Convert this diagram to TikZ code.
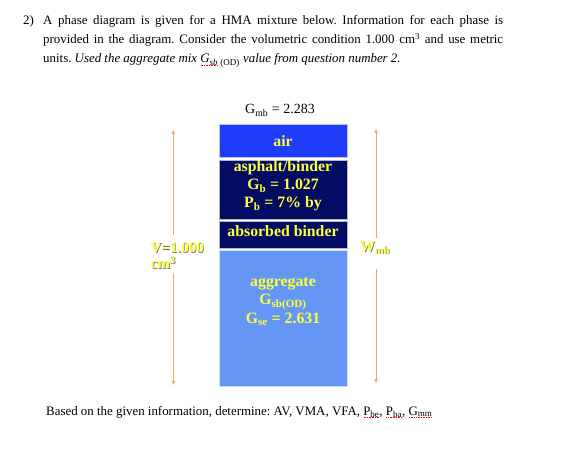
\documentclass[tikz,border=0pt]{standalone}
\usepackage{fontspec}
\setmainfont{Liberation Serif}
\usepackage{xcolor}
\usetikzlibrary{arrows.meta,positioning}
\definecolor{airblue}{RGB}{30,60,250}
\definecolor{bindernavy}{RGB}{2,12,98}
\definecolor{aggblue}{RGB}{100,150,245}
\definecolor{labelyellow}{RGB}{255,255,60}
\definecolor{dimorange}{RGB}{250,165,95}
\newsavebox{\spellbox}
\newcommand{\spellchk}[1]{\leavevmode\sbox{\spellbox}{#1}\rlap{\raisebox{-2.5pt}{\textcolor{red}{\hbox to \wd\spellbox{\xleaders\hbox to 1.6pt{\hss\rule{0.8pt}{0.7pt}\hss}\hfill}}}}\usebox{\spellbox}}
\newcommand{\shadowed}[1]{\rlap{\hspace{0.7pt}\raisebox{-0.7pt}{\textcolor{black!55}{#1}}}#1}
\frenchspacing

\begin{document}
\begin{tikzpicture}[x=1pt,y=-1pt,
    phase/.style={rectangle, minimum width=128.5pt, inner sep=0pt, draw=white!70!#1, fill=#1, line width=0.6pt},
    lbl/.style={text=labelyellow, font=\fontsize{15.8}{18}\selectfont\bfseries, align=center, inner sep=0pt},
    dimarrow/.style={draw=dimorange, line width=0.8pt, -{Triangle[length=4pt,width=3.5pt]}},
    body/.style={font=\fontsize{12.9}{19}\selectfont, anchor=base west, inner sep=0pt}
    ]
    \path[use as bounding box] (0,0) rectangle (570,462);

    % question text
    \node[body] (num) at (23,25) {2)};
    \node[body] (line1) at (43,25) {\makebox[460pt][s]{A phase diagram is given for a HMA mixture below. Information for each phase is}};
    \node[body] (line2) at (43,44) {\makebox[460pt][s]{provided in the diagram. Consider the volumetric condition 1.000 cm\textsuperscript{3} and use metric}};
    \node[body] (line3) at (43,63) {units. \textit{Used the aggregate mix \spellchk{G\textsubscript{sb}}\,\textsubscript{\upshape(OD)} value from question number 2.}};

    % phases
    \node[phase=airblue, minimum height=33pt, anchor=north west] (air) at (218.7,124.3) {};
    \node[phase=bindernavy, minimum height=59.3pt, below=1.7pt of air] (binder) {};
    \node[phase=bindernavy, minimum height=27.3pt, below=1.4pt of binder] (absorbed) {};
    \node[phase=aggblue, minimum height=135pt, below=1.7pt of absorbed] (agg) {};

    \node[anchor=base, font=\fontsize{14}{16}\selectfont, inner sep=0pt] (gmb) at (280,114) {G\textsubscript{mb} = 2.283};
    \node[lbl, anchor=base] (airtxt) at (283,146.7) {air};
    \node[lbl, anchor=base] (bindertxt) at (283,208) {asphalt/binder\\G\textsubscript{b} = 1.027\\P\textsubscript{b} = 7\% by};
    \node[lbl, anchor=base] (abstxt) at (283,236.7) {absorbed binder};
    \node[lbl, anchor=base] (aggtxt) at (283,323) {aggregate\\G\textsubscript{sb(OD)}\\G\textsubscript{se} = 2.631};

    % dimensions
    \coordinate (vtop) at (173.3,130);
    \coordinate (vbot) at (173.3,385);
    \coordinate (wtop) at (376,129);
    \coordinate (wbot) at (376,383);
    \node[lbl, anchor=base west, align=left, font=\fontsize{15}{16.3}\selectfont\bfseries] (vol) at (150.7,269) {\shadowed{V=1.000}\\\shadowed{cm\textsuperscript{3}}};
    \node[lbl, anchor=base west, font=\fontsize{15}{16}\selectfont\bfseries] (wmb) at (360,251.7) {\shadowed{W\textsubscript{mb}}};
    \draw[dimarrow] ([yshift=8pt]vol.north -| vtop) -- (vtop);
    \draw[dimarrow] ([yshift=-3pt]vol.south -| vbot) -- (vbot);
    \draw[dimarrow] ([yshift=4pt]wmb.north -| wtop) -- (wtop);
    \draw[dimarrow] ([yshift=-14pt]wmb.south -| wbot) -- (wbot);

    \node[body] (task) at (46,415) {Based on the given information, determine: AV, VMA, VFA, \spellchk{P\textsubscript{be}}, \spellchk{P\textsubscript{ba}}, \spellchk{G\textsubscript{mm}}};
\end{tikzpicture}
\end{document}
